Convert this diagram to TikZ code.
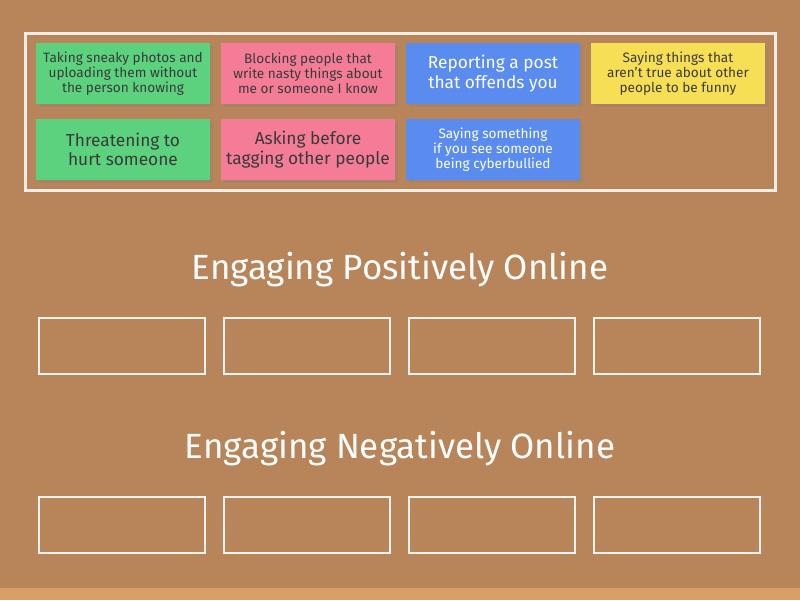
\documentclass[tikz,border=0pt]{standalone}
\usepackage{fontspec}
\setmainfont{Fira Sans}
\usetikzlibrary{shadows}
\definecolor{cork}{HTML}{B8845A}
\definecolor{wood}{HTML}{D9A066}
\definecolor{cgreen}{HTML}{5CD27E}
\definecolor{cpink}{HTML}{F47C96}
\definecolor{cblue}{HTML}{5A8CF0}
\definecolor{cyellow}{HTML}{F7DF55}
\definecolor{ink}{HTML}{3A3A3A}
\begin{document}
\begin{tikzpicture}[x=1pt,y=-1pt,
  card/.style={minimum width=174pt,minimum height=61pt,inner sep=2pt,align=center,font=\fontsize{13.6}{15}\selectfont,text=ink,drop shadow={opacity=0.3}},
  big/.style={font=\fontsize{17.3}{19.5}\selectfont},
  slot/.style={draw=white!90!cork,line width=2pt,minimum width=166pt,minimum height=56pt},
  title/.style={text=white,font=\fontsize{35}{40}\selectfont}]
\useasboundingbox (0,0) rectangle (800,600);
\fill[cork] (0,0) rectangle (800,600);
\fill[wood] (0,588) rectangle (800,600);
\node[draw=white!85!cork,line width=3pt,minimum width=750pt,minimum height=157pt] (tray) at (400,111.5) {};
\node[card,fill=cgreen] (c1) at (123,73.5) {Taking sneaky photos and\\uploading them without\\the person knowing};
\node[card,fill=cpink] (c2) at (308,73.5) {Blocking people that\\write nasty things about\\me or someone I know};
\node[card,fill=cblue,text=white,big] (c3) at (493,73.5) {Reporting a post\\that offends you};
\node[card,fill=cyellow] (c4) at (678,73.5) {Saying things that\\aren't true about other\\people to be funny};
\node[card,fill=cgreen,big] (c5) at (123,149.5) {Threatening to\\hurt someone};
\node[card,fill=cpink,big] (c6) at (308,149.5) {Asking before\\tagging other people};
\node[card,fill=cblue,text=white] (c7) at (493,149.5) {Saying something\\if you see someone\\being cyberbullied};
\node[title] (t1) at (400,270) {Engaging Positively Online};
\node[title] (t2) at (400,449) {Engaging Negatively Online};
\foreach \i/\x in {1/122,2/307,3/492,4/677}{
  \node[slot] (p\i) at (\x,346) {};
  \node[slot] (n\i) at (\x,525) {};
}
\end{tikzpicture}
\end{document}
